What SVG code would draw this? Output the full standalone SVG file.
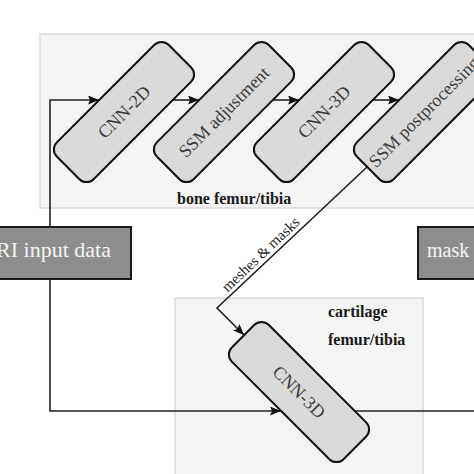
<svg xmlns="http://www.w3.org/2000/svg" width="474" height="474" viewBox="0 0 474 474">
  <defs>
    <marker id="arr" markerWidth="12" markerHeight="10" refX="11" refY="4.5" orient="auto" markerUnits="userSpaceOnUse">
      <path d="M0,0 L11,4.5 L0,9 L2,4.5 z" fill="#111"/>
    </marker>
    <style>
      .panel { fill: #f4f4f4; stroke: #dadada; stroke-width: 1.5; }
      .box { fill: #dadada; stroke: #111; stroke-width: 2; }
      .btxt { font-family: "Liberation Serif", serif; font-size: 18px; fill: #3a3a3a; text-anchor: middle; }
      .io { fill: #8d8d8d; stroke: #1a1a1a; stroke-width: 2; }
      .iotxt { font-family: "Liberation Serif", serif; font-size: 20px; fill: #f4f4f4; }
      .lbl { font-family: "Liberation Serif", serif; font-size: 16px; font-weight: bold; fill: #1a1a1a; }
      .conn { fill: none; stroke: #222; stroke-width: 1.6; }
      .ctxt { font-family: "Liberation Serif", serif; font-size: 15px; fill: #222; text-anchor: middle; }
    </style>
  </defs>

  <g id="panel-bone">
    <rect class="panel" x="40" y="34" width="450" height="174"/>
    <text class="lbl" x="177" y="204">bone femur/tibia</text>
  </g>
  <g id="panel-cartilage">
    <rect class="panel" x="175" y="298" width="248" height="185"/>
    <text class="lbl" x="328" y="317">cartilage</text>
    <text class="lbl" x="328" y="345">femur/tibia</text>
  </g>

  <g id="connectors">
    <polyline class="conn" points="50,227 50,100 99,100" marker-end="url(#arr)"/>
    <line class="conn" x1="173" y1="100" x2="199" y2="100" marker-end="url(#arr)"/>
    <line class="conn" x1="273" y1="100" x2="299" y2="100" marker-end="url(#arr)"/>
    <line class="conn" x1="373" y1="100" x2="399" y2="100" marker-end="url(#arr)"/>
    <polyline class="conn" points="50,279 50,411 281,411" marker-end="url(#arr)"/>
    <line class="conn" x1="355" y1="411" x2="474" y2="411"/>
    <polyline class="conn" points="367,167 217,308 244,335" marker-end="url(#arr)"/>
    <text class="ctxt" transform="translate(264,258) rotate(-43.5)">meshes &amp; masks</text>
  </g>

  <g id="mri">
    <rect class="io" x="-10" y="227" width="141" height="52"/>
    <text class="iotxt" x="111" y="257" text-anchor="end" style="font-size:22px">MRI input data</text>
  </g>
  <g id="mask">
    <rect class="io" x="418" y="227" width="70" height="52"/>
    <text class="iotxt" x="427" y="257">mask</text>
  </g>

  <g id="cnn2d" transform="translate(124,112) rotate(-45)">
    <rect class="box" x="-79" y="-26" width="158" height="52" rx="10"/>
    <text class="btxt" y="6">CNN-2D</text>
  </g>
  <g id="ssm-adj" transform="translate(224,112) rotate(-45)">
    <rect class="box" x="-79" y="-26" width="158" height="52" rx="10"/>
    <text class="btxt" y="6">SSM adjustment</text>
  </g>
  <g id="cnn3d-bone" transform="translate(324,112) rotate(-45)">
    <rect class="box" x="-79" y="-26" width="158" height="52" rx="10"/>
    <text class="btxt" y="6">CNN-3D</text>
  </g>
  <g id="ssm-post" transform="translate(424,112) rotate(-45)">
    <rect class="box" x="-79" y="-26" width="158" height="52" rx="10"/>
    <text class="btxt" y="6">SSM postprocessing</text>
  </g>
  <g id="cnn3d-cart" transform="translate(299,392) rotate(45)">
    <rect class="box" x="-79" y="-26" width="158" height="52" rx="10"/>
    <text class="btxt" y="6">CNN-3D</text>
  </g>
</svg>
